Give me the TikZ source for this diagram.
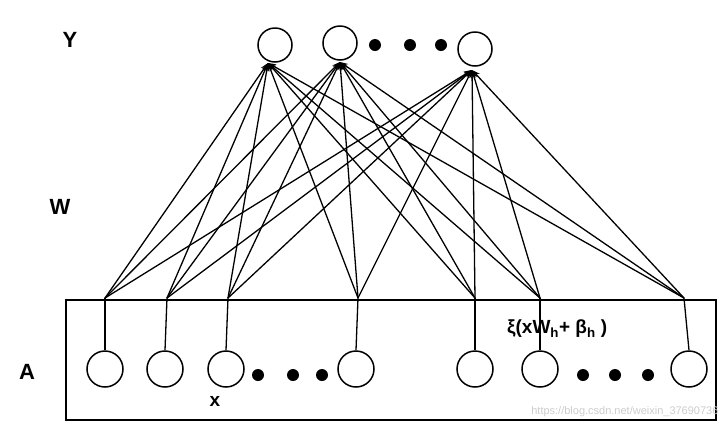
\documentclass[tikz,border=0pt]{standalone}
\usepackage{fontspec}
\setmainfont{Liberation Sans}
\usetikzlibrary{arrows.meta}
\begin{document}
\begin{tikzpicture}[x=1pt,y=-1pt,
  neuron/.style={draw,circle,line width=1.5pt,minimum size=34pt,inner sep=0pt},
  bigdot/.style={fill,circle,inner sep=0pt,minimum size=12pt},
  lab/.style={font=\bfseries\fontsize{22}{22}\selectfont},
  conn/.style={line width=1.3pt,-{Stealth[length=8pt,width=6pt]}}]
\useasboundingbox (0,0) rectangle (724,432);
\node[lab] (Y) at (70,40) {Y};
\node[lab] (W) at (60,207) {W};
\node[lab] (A) at (27,372) {A};
\node[draw,line width=1.5pt,minimum width=650pt,minimum height=120pt,anchor=north west,inner sep=0pt] (box) at (65,299) {};
\node[neuron] (y1) at (275,45) {};
\node[neuron] (y2) at (340,43) {};
\node[neuron] (y3) at (475,49) {};
\foreach \x/\n in {375/a,410/b,441/c} \node[bigdot] (td\n) at (\x,45) {};
\foreach \x/\n in {105/1,165/2,226/3,356/4,475/5,540/6,689/7} {
  \node[neuron,minimum size=36pt] (a\n) at (\x,369) {};
}
\foreach \x/\n in {258/a,293/b,322/c,583/d,615/e,648/f} \node[bigdot] (bd\n) at (\x,375) {};
\foreach \x/\n in {105/1,167/2,228/3,358/4,475/5,540/6,684/7} {
  \coordinate (j\n) at (\x,298);
  \draw[line width=1.3pt] (a\n.north) -- (j\n);
}
\coordinate (t1) at (268,63);
\coordinate (t2) at (340,62);
\coordinate (t3) at (472,70);
\foreach \n in {1,...,7} \foreach \t in {1,2,3} \draw[conn] (j\n) -- (t\t);
\node[font=\bfseries\fontsize{19}{19}\selectfont,anchor=west,inner sep=0pt] (xi) at (507,329) {ξ(xW$_{\mathbf h}$+ β$_{\mathbf h}$ )};
\node[lab,font=\bfseries\fontsize{19}{19}\selectfont] (xl) at (215,401) {x};
\node[text=gray!40,font=\fontsize{11}{11}\selectfont,anchor=east] (wm) at (722,412) {https://blog.csdn.net/weixin\_37690736};
\end{tikzpicture}
\end{document}
